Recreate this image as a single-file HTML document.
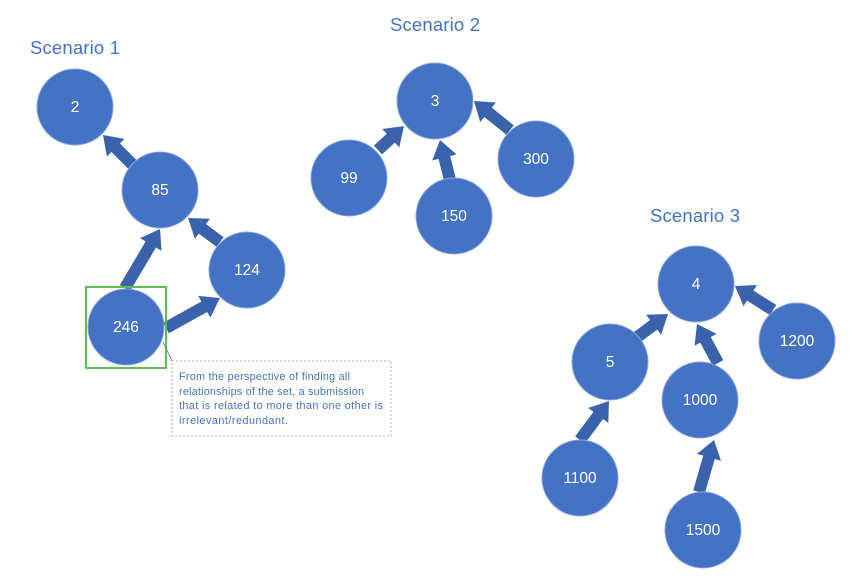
<!DOCTYPE html>
<html><head><meta charset="utf-8"><style>
body{margin:0;background:#fff;width:853px;height:581px;overflow:hidden;font-family:"Liberation Sans",sans-serif}
</style></head><body>
<svg id="s" width="853" height="581" xmlns="http://www.w3.org/2000/svg" font-family="Liberation Sans, sans-serif">
<g font-size="18.5" fill="#4472c4">
<text x="30" y="54" textLength="90">Scenario 1</text>
<text x="390" y="31" textLength="90">Scenario 2</text>
<text x="650" y="222" textLength="90">Scenario 3</text>
</g>
<g id="arrows" fill="#3b63ad"></g>
<g id="nodes"></g>
<rect x="86" y="287" width="80" height="81" fill="none" stroke="#5cbf4f" stroke-width="2"/>
<line x1="163" y1="342" x2="172" y2="361" stroke="#4472c4" stroke-width="0.8"/>
<rect x="172" y="361" width="219" height="75" fill="#fff" stroke="#999" stroke-width="0.8" stroke-dasharray="2,2"/>
<g font-size="10.8" fill="#4472c4">
<text x="179" y="380" textLength="171">From the perspective of finding all</text>
<text x="179" y="395" textLength="185">relationships of the set, a submission</text>
<text x="179" y="409" textLength="204">that is related to more than one other  is</text>
<text x="179" y="424" textLength="109">irrelevant/redundant.</text>
</g>
</svg>
<script>
var ns="http://www.w3.org/2000/svg";
var A=[[133,165,103,135],[125,288,160,229],[220,242,188,218],[166,328,220,298],
[378,150,404,126],[450,180,440,140],[510,130,474,101],
[636,338,668,314],[718,363,697,324],[773,310,735,286],[580,440,609,401],[699,492,714,440]];
var g=document.getElementById('arrows');
A.forEach(function(a){var dx=a[2]-a[0],dy=a[3]-a[1],L=Math.hypot(dx,dy),ux=dx/L,uy=dy/L,px=-uy,py=ux;
var w=6,hw=12.5,hl=18,bx=a[2]-ux*hl,by=a[3]-uy*hl;
var p=[[a[0]+px*w,a[1]+py*w],[bx+px*w,by+py*w],[bx+px*hw,by+py*hw],[a[2],a[3]],[bx-px*hw,by-py*hw],[bx-px*w,by-py*w],[a[0]-px*w,a[1]-py*w]];
var e=document.createElementNS(ns,'polygon');e.setAttribute('points',p.map(function(q){return q.join(',')}).join(' '));g.appendChild(e);});
var N=[[75,107,"2"],[160,190,"85"],[247,270,"124"],[126,327,"246"],[435,101,"3"],[349,178,"99"],[454,216,"150"],[536,159,"300"],
[696,284,"4"],[610,362,"5"],[700,400,"1000"],[797,341,"1200"],[580,478,"1100"],[703,530,"1500"]];
var n=document.getElementById('nodes');
N.forEach(function(c){var e=document.createElementNS(ns,'circle');e.setAttribute('cx',c[0]);e.setAttribute('cy',c[1]);e.setAttribute('r',38);e.setAttribute('fill','#4472c4');e.setAttribute('stroke','#8ea6d6');e.setAttribute('stroke-width','1');n.appendChild(e);
var t=document.createElementNS(ns,'text');t.setAttribute('x',c[0]);t.setAttribute('y',c[1]+5);t.setAttribute('text-anchor','middle');t.setAttribute('fill','#fff');t.setAttribute('font-size','15.5');t.textContent=c[2];n.appendChild(t);});
</script>
</body></html>
